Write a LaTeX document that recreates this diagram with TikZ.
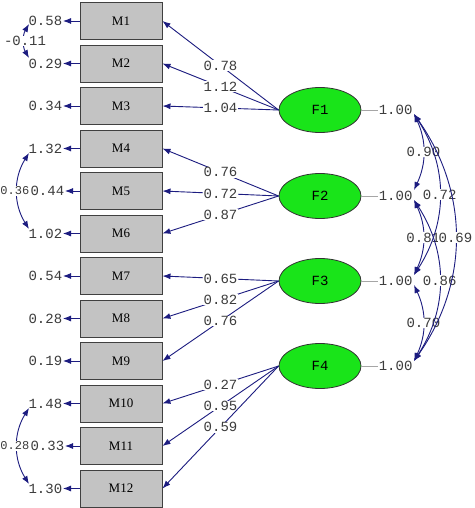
\documentclass[tikz,border=0pt]{standalone}
\usepackage{fontspec}
\setmainfont{Liberation Serif}
\newfontfamily\monof{Liberation Mono}
\usetikzlibrary{arrows.meta,shapes.geometric}
\definecolor{navyline}{RGB}{28,28,128}
\definecolor{boxgray}{RGB}{195,195,195}
\definecolor{fgreen}{RGB}{25,228,25}
\definecolor{txtgray}{RGB}{60,60,60}
\begin{document}
\begin{tikzpicture}[x=1pt,y=-1pt,
 obs/.style={draw=black!75, fill=boxgray, minimum width=82pt, minimum height=37pt, inner sep=0pt, font=\fontsize{13}{13}\selectfont, line width=0.9pt},
 lat/.style={ellipse, draw=black!80, fill=fgreen, minimum width=82pt, minimum height=45pt, inner sep=0pt, font=\monof\fontsize{14}{14}\selectfont, line width=0.8pt},
 num/.style={font=\monof\fontsize{14}{14}\selectfont, text=txtgray, inner sep=0.6pt, fill=white},
 arr/.style={draw=navyline, line width=0.9pt, -{Latex[length=8pt,width=6pt]}},
 darr/.style={draw=navyline, line width=0.9pt, {Latex[length=8pt,width=6pt]}-{Latex[length=8pt,width=6pt]}},
 varline/.style={draw=black!35, line width=0.8pt},
]
\useasboundingbox (0,0) rectangle (474,508);
\fill[white] (0,0) rectangle (474,508);

% observed variables
\node[obs] (M1) at (121,21) {M1};
\node[obs] (M2) at (121,63.5) {M2};
\node[obs] (M3) at (121,106) {M3};
\node[obs] (M4) at (121,148.5) {M4};
\node[obs] (M5) at (121,191) {M5};
\node[obs] (M6) at (121,233.5) {M6};
\node[obs] (M7) at (121,276) {M7};
\node[obs] (M8) at (121,318.5) {M8};
\node[obs] (M9) at (121,361) {M9};
\node[obs] (M10) at (121,403.5) {M10};
\node[obs] (M11) at (121,446) {M11};
\node[obs] (M12) at (121,488.5) {M12};

% error variances
\node[num, anchor=east] (e1) at (63,21) {0.58};
\node[num, anchor=east] (e2) at (63,63.5) {0.29};
\node[num, anchor=east] (e3) at (63,106) {0.34};
\node[num, anchor=east] (e4) at (63,148.5) {1.32};
\node[num, anchor=east] (e5) at (65,191) {0.44};
\node[num, anchor=east] (e6) at (63,233.5) {1.02};
\node[num, anchor=east] (e7) at (63,276) {0.54};
\node[num, anchor=east] (e8) at (63,318.5) {0.28};
\node[num, anchor=east] (e9) at (63,361) {0.19};
\node[num, anchor=east] (e10) at (63,403.5) {1.48};
\node[num, anchor=east] (e11) at (65,446) {0.33};
\node[num, anchor=east] (e12) at (63,488.5) {1.30};
\foreach \i in {1,...,12}{\draw[arr] (M\i.west) -- (e\i.east);}

% error covariances
\coordinate (a1) at (29,24);
\coordinate (a2) at (29,58);
\coordinate (a4) at (29,153);
\coordinate (a6) at (29,229);
\coordinate (a10) at (29,408);
\coordinate (a12) at (29,484);
\draw[darr] (a1) to[bend right=30] node[num, pos=0.5, xshift=1pt] {-0.11} (a2);
\draw[darr] (a4) to[bend right=32] (a6);
\node[num, anchor=west, inner xsep=0.3pt, font=\monof\fontsize{12}{12}\selectfont] (k1) at (0,191) {0.36};
\draw[darr] (a10) to[bend right=32] (a12);
\node[num, anchor=west, inner xsep=0.3pt, font=\monof\fontsize{12}{12}\selectfont] (k2) at (0,446) {0.28};

% latent variables
\node[lat] (F1) at (320,110) {F1};
\node[lat] (F2) at (320,196) {F2};
\node[lat] (F3) at (320,281) {F3};
\node[lat] (F4) at (320,366) {F4};

% loadings
\draw[arr] (F1.west) -- node[num, pos=0.5] {0.78} (M1.east);
\draw[arr] (F1.west) -- node[num, pos=0.5] {1.12} (M2.east);
\draw[arr] (F1.west) -- node[num, pos=0.5] {1.04} (M3.east);
\draw[arr] (F2.west) -- node[num, pos=0.5] {0.76} (M4.east);
\draw[arr] (F2.west) -- node[num, pos=0.5] {0.72} (M5.east);
\draw[arr] (F2.west) -- node[num, pos=0.5] {0.87} (M6.east);
\draw[arr] (F3.west) -- node[num, pos=0.5] {0.65} (M7.east);
\draw[arr] (F3.west) -- node[num, pos=0.5] {0.82} (M8.east);
\draw[arr] (F3.west) -- node[num, pos=0.5] {0.76} (M9.east);
\draw[arr] (F4.west) -- node[num, pos=0.5] {0.27} (M10.east);
\draw[arr] (F4.west) -- node[num, pos=0.5] {0.95} (M11.east);
\draw[arr] (F4.west) -- node[num, pos=0.5] {0.59} (M12.east);

% factor variances
\foreach \i/\y in {1/110,2/196,3/281,4/366}{
  \node[num, fill=none, anchor=west] (v\i) at (378,\y) {1.00};
  \draw[varline] (F\i.east) -- (v\i.west);
}

% factor correlations
\coordinate (c1b) at (414,114);
\coordinate (c2t) at (414,190);
\coordinate (c2b) at (414,200);
\coordinate (c3t) at (414,275);
\coordinate (c3b) at (414,285);
\coordinate (c4t) at (414,361);
\draw[darr] (c1b) to[bend left=25] node[num, pos=0.5] {0.90} (c2t);
\draw[darr] (c2b) to[bend left=25] node[num, pos=0.5] {0.81} (c3t);
\draw[darr] (c3b) to[bend left=25] node[num, pos=0.5] {0.70} (c4t);
\draw[darr] (c1b) to[bend left=33] node[num, pos=0.5] {0.72} (c3t);
\draw[darr] (c2b) to[bend left=33] node[num, pos=0.5] {0.86} (c4t);
\draw[darr] (c1b) to[bend left=35] node[num, pos=0.5] {0.69} (c4t);
\end{tikzpicture}
\end{document}
